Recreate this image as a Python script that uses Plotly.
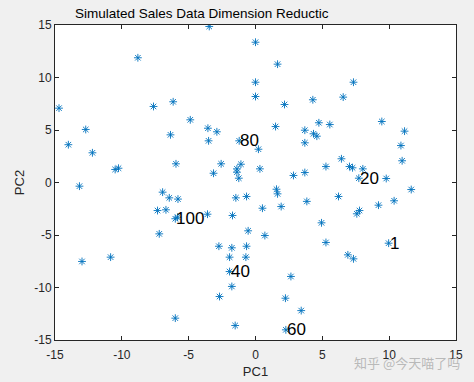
import plotly.graph_objects as go

# PC scores
pc1 = [-14.7, -8.8, -7.63, -6.16, -12.7, -14.0, -6.36, -12.2, -5.95, -10.5,
       -10.25, -13.17, -3.46, 0.0, 1.65, 0.0, 0.0, 2.17, -4.88, 1.5,
       -3.56, -2.89, 3.69, -3.51, -1.22, 0.22, 3.69, -2.57, -1.09, -3.14,
       -1.39, -1.39, -1.25, 0.33, 2.84, 3.69, 7.33, 4.29, 6.56, 4.74,
       5.56, 9.45, 11.15, 4.34, 4.59, 10.88, 6.43, 5.27, 7.03, 7.26,
       10.97, 8.03, 7.73, 9.78, 11.65, 3.84, 6.21, 9.2, 10.37, 7.58,
       7.78, 4.94, 5.27, 9.96, 6.91, 7.33, 3.42, -5.8, -1.47, -0.67,
       1.57, 1.65, 0.52, 1.92, -6.0, -5.83, -3.59, -1.72, -0.55, 0.7,
       -2.74, -1.77, -0.67, -1.94, -0.72, -1.94, 2.65, -1.77, -2.69, 2.24,
       -6.0, -1.52, 2.27, -6.95, -6.45, -7.33, -6.7, -7.2, -12.98, -10.84]
pc2 = [7.08, 11.88, 7.24, 7.69, 5.05, 3.6, 4.54, 2.83, 1.78, 1.24,
       1.36, -0.35, 14.86, 13.36, 11.27, 9.55, 8.19, 7.43, 5.97, 5.33,
       5.17, 4.83, 4.98, 3.97, 3.97, 3.17, 3.78, 1.78, 1.74, 0.88,
       1.3, 0.98, 0.41, 1.3, 0.67, 0.95, 9.55, 7.88, 8.13, 5.69,
       5.52, 5.81, 4.89, 4.64, 4.41, 3.52, 2.26, 1.52, 1.52, 1.4,
       2.07, 1.3, 0.41, 0.38, -0.67, -1.8, -1.33, -2.16, -1.74, -2.98,
       -2.67, -3.84, -5.71, -5.78, -6.89, -7.27, -12.2, -1.58, -1.46, -1.33,
       -0.64, -1.08, -2.45, -2.29, -3.45, -3.3, -3.02, -3.14, -4.6, -5.05,
       -6.07, -6.22, -6.07, -7.11, -7.11, -8.48, -8.95, -9.9, -10.86, -11.02,
       -12.92, -13.62, -14.03, -0.92, -1.46, -2.67, -2.6, -4.89, -7.52, -7.11]

# Labelled observations
label_text = ["1", "20", "40", "60", "80", "100"]
label_x = [9.96, 7.73, -1.94, 2.27, -1.22, -6.0]
label_y = [-5.78, 0.41, -8.48, -14.03, 3.97, -3.45]

tick_vals = [-15, -10, -5, 0, 5, 10, 15]
tick_text = ["-15", "-10", "-5", "0", "5", "10", "15"]

fig = go.Figure()
fig.add_trace(go.Scatter(
    x=pc1, y=pc2, mode="markers",
    marker=dict(symbol="asterisk-open", size=6.5, color="#0072BD",
                line=dict(color="rgba(0,114,189,0.85)", width=0.9)),
    showlegend=False, hoverinfo="skip"))

for t, x, y in zip(label_text, label_x, label_y):
    fig.add_annotation(x=x, y=y, text=t, showarrow=False, xanchor="left",
                       yanchor="middle", xshift=0, borderpad=0,
                       font=dict(family="Liberation Sans, Arial", size=17, color="black"))

axis_common = dict(range=[-15, 15], tickvals=tick_vals, ticktext=tick_text,
                   ticks="inside", ticklen=4, tickcolor="#262626",
                   showline=True, linecolor="#262626", linewidth=1,
                   mirror="ticks", showgrid=False, zeroline=False, automargin=False,
                   tickfont=dict(family="Liberation Sans, Arial", size=12, color="#262626"))

fig.update_layout(
    width=474, height=382,
    margin=dict(l=55, r=18, t=25, b=42),
    paper_bgcolor="#f0f0f0", plot_bgcolor="white",
    xaxis=dict(**axis_common, ticklabelstandoff=4,
               title=dict(text="PC1", standoff=5,
                          font=dict(family="Liberation Sans, Arial", size=13, color="#262626"))),
    yaxis=dict(**axis_common,
               title=dict(text="PC2", standoff=6,
                          font=dict(family="Liberation Sans, Arial", size=13, color="#262626"))),
)

fig.add_annotation(xref="paper", yref="paper", x=0.044, y=1.035, xanchor="left",
                   yanchor="middle", showarrow=False,
                   text="Simulated Sales Data Dimension Reductic",
                   font=dict(family="Liberation Sans, Arial", size=13.5, color="black"))

fig.add_annotation(xref="paper", yref="paper", x=1.015, y=-0.07, xanchor="right",
                   yanchor="middle", showarrow=False,
                   text="知乎 @今天喵了吗",
                   font=dict(family="Noto Sans CJK SC", size=13, color="rgba(170,170,170,0.8)"))

fig.write_html("out.html", config={"displayModeBar": False},
               post_script="document.body.style.margin='0';document.body.style.overflow='hidden';")
